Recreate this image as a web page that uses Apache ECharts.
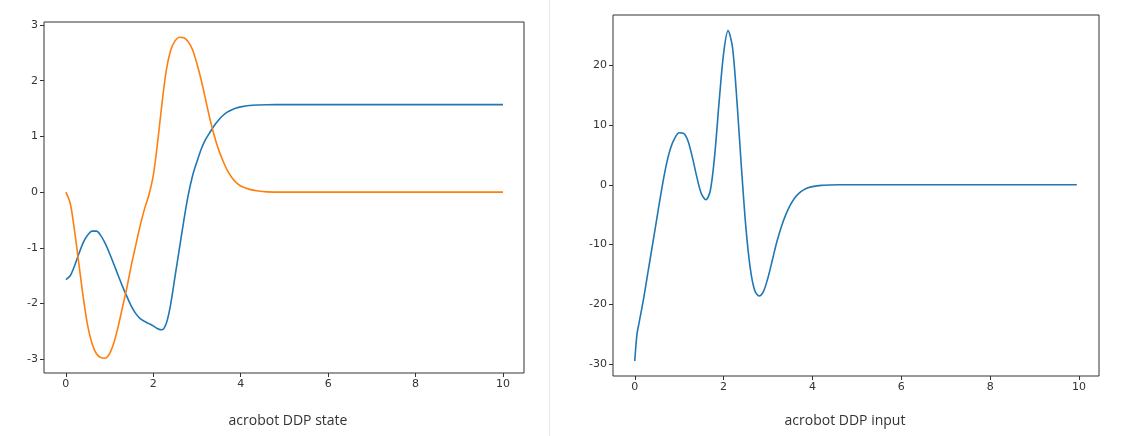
<!DOCTYPE html>
<html>
<head>
<meta charset="utf-8">
<script src="https://cdn.jsdelivr.net/npm/echarts@6/dist/echarts.min.js"></script>
<style>html,body{margin:0;padding:0;background:#fff}#chart{width:1128px;height:436px}</style>
</head>
<body>
<div id="chart"></div>
<script>
// 状态曲线的时间点
const stateT = [0, 0.1, 0.2, 0.3, 0.4, 0.5, 0.6, 0.7, 0.8, 0.9, 1.0, 1.1, 1.2, 1.3, 1.4, 1.5, 1.6, 1.7, 1.8, 1.9, 2.0, 2.1, 2.2, 2.3, 2.4, 2.5, 2.6, 2.7, 2.8, 2.9, 3.0, 3.1, 3.2, 3.3, 3.4, 3.5, 3.6, 3.7, 3.8, 3.9, 4.0, 4.2, 4.4, 4.6, 5.0, 6, 7, 8, 9, 10];
const theta1 = [-1.57, -1.5, -1.32, -1.1, -0.9, -0.77, -0.7, -0.7, -0.78, -0.92, -1.1, -1.3, -1.5, -1.7, -1.88, -2.05, -2.18, -2.27, -2.32, -2.36, -2.4, -2.45, -2.47, -2.35, -2.0, -1.5, -1.0, -0.5, -0.05, 0.3, 0.55, 0.78, 0.95, 1.08, 1.2, 1.3, 1.38, 1.44, 1.48, 1.51, 1.53, 1.555, 1.565, 1.57, 1.571, 1.571, 1.571, 1.571, 1.571, 1.571];
const theta2 = [0, -0.2, -0.7, -1.3, -1.9, -2.4, -2.72, -2.9, -2.97, -2.98, -2.9, -2.7, -2.4, -2.05, -1.7, -1.3, -0.95, -0.6, -0.3, -0.05, 0.3, 0.9, 1.6, 2.2, 2.55, 2.72, 2.78, 2.77, 2.7, 2.55, 2.3, 2.0, 1.65, 1.3, 1.0, 0.75, 0.55, 0.38, 0.26, 0.17, 0.11, 0.05, 0.02, 0.005, 0, 0, 0, 0, 0, 0];
// 输入曲线
const inputT = [0, 0.05, 0.1, 0.2, 0.3, 0.4, 0.5, 0.6, 0.7, 0.8, 0.9, 1.0, 1.1, 1.2, 1.3, 1.4, 1.5, 1.6, 1.7, 1.8, 1.9, 2.0, 2.1, 2.2, 2.3, 2.4, 2.5, 2.6, 2.7, 2.8, 2.9, 3.0, 3.1, 3.2, 3.3, 3.4, 3.5, 3.6, 3.7, 3.8, 3.9, 4.0, 4.2, 4.4, 4.6, 6, 8, 9.95];
const inputU = [-29.5, -25, -23, -19, -14.5, -10, -5.5, -1, 3, 6, 7.8, 8.7, 8.6, 7.3, 4.5, 1.2, -1.5, -2.5, -1, 5, 14, 22, 25.8, 23, 14, 3, -7, -14, -17.7, -18.6, -17.8, -15.5, -12.5, -9.5, -7, -5, -3.4, -2.2, -1.4, -0.85, -0.5, -0.3, -0.1, -0.03, 0, 0, 0, 0];
const xTicks = [0, 2, 4, 6, 8, 10];
const stateTicks = [-3, -2, -1, 0, 1, 2, 3];
const inputTicks = [-30, -20, -10, 0, 10, 20];

const pairs = (xs, ys) => xs.map((x, i) => [x, ys[i]]);

const chart = echarts.init(document.getElementById('chart'));
const font = 'DejaVu Sans';
function axis(type, idx, min, max, ticks) {
    return {
        type: 'value', gridIndex: idx, min: min, max: max,
        position: type === 'x' ? 'bottom' : 'left',
        axisLine: { show: false, onZero: false },
        splitLine: { show: false },
        axisTick: { show: true, inside: false, length: 4, lineStyle: { color: '#333' }, customValues: ticks },
        axisLabel: { color: '#333', fontSize: 11, fontFamily: font, margin: 6, customValues: ticks }
    };
}
const line = (x, y, data, color) => ({
    type: 'line', xAxisIndex: x, yAxisIndex: y, data: data, smooth: 0.3,
    showSymbol: false, lineStyle: { color: color, width: 1.6 }, animation: false
});
chart.setOption({
    animation: false,
    title: [
        { text: 'acrobot DDP state', left: 283, top: 409, textAlign: 'center',
          textStyle: { fontFamily: 'Open Sans', fontSize: 14, fontWeight: 'normal', color: '#333' } },
        { text: 'acrobot DDP input', left: 840, top: 409, textAlign: 'center',
          textStyle: { fontFamily: 'Open Sans', fontSize: 14, fontWeight: 'normal', color: '#333' } }
    ],
    grid: [
        { left: 44, top: 22, width: 480, height: 351, show: true, borderColor: '#333', borderWidth: 1, backgroundColor: '#fff' },
        { left: 613, top: 15, width: 486, height: 361, show: true, borderColor: '#333', borderWidth: 1, backgroundColor: '#fff' }
    ],
    xAxis: [axis('x', 0, -0.5, 10.48, xTicks), axis('x', 1, -0.49, 10.45, xTicks)],
    yAxis: [axis('y', 0, -3.246, 3.054, stateTicks), axis('y', 1, -32, 28.42, inputTicks)],
    graphic: [{ type: 'line', shape: { x1: 549.5, y1: 0, x2: 549.5, y2: 436 }, style: { stroke: '#e6e6e6', lineWidth: 1 } }],
    series: [
        line(0, 0, pairs(stateT, theta1), '#1f77b4'),
        line(0, 0, pairs(stateT, theta2), '#ff7f0e'),
        line(1, 1, pairs(inputT, inputU), '#1f77b4')
    ]
});
</script>
</body>
</html>
